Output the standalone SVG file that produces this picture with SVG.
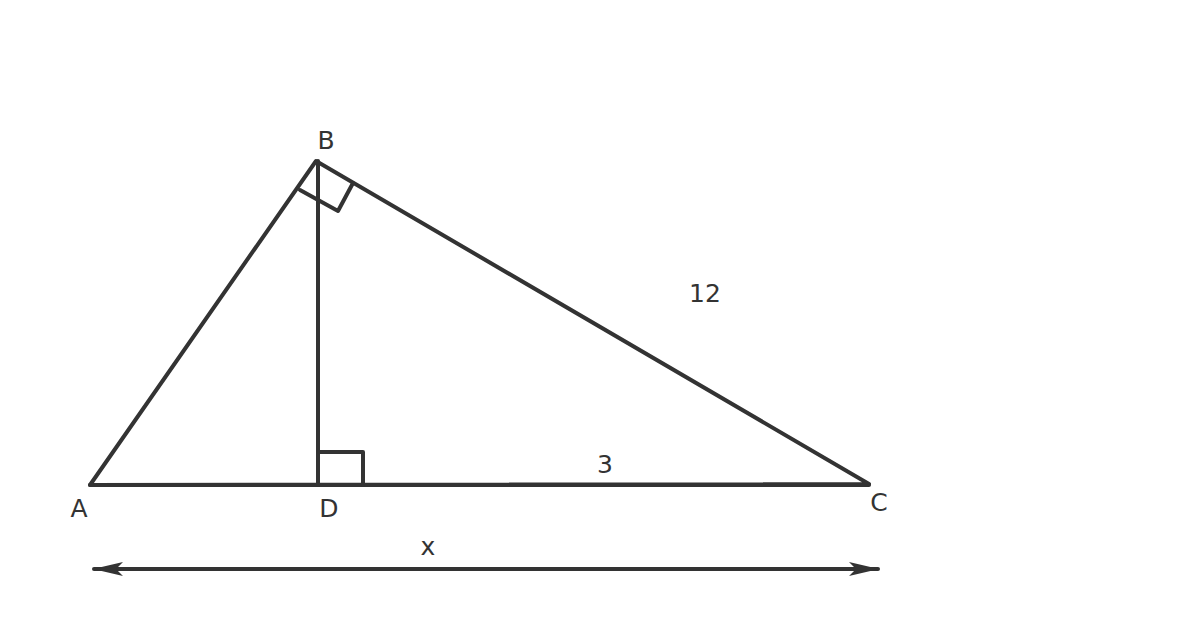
<svg xmlns="http://www.w3.org/2000/svg" width="1198" height="636" viewBox="0 0 1198 636">
<style>
.l{fill:none;stroke:#333;stroke-width:4;stroke-linecap:round;stroke-linejoin:round}
.t{font-family:"DejaVu Sans",sans-serif;font-size:25px;fill:#333;text-anchor:middle}
</style>
<defs>
<marker id="ah" viewBox="0 0 30 16" refX="29" refY="8" markerWidth="30" markerHeight="16" markerUnits="userSpaceOnUse" orient="auto-start-reverse">
<path d="M0,1 L30,8 L0,15 L7,8 Z" fill="#333"/>
</marker>
</defs>
<rect width="1198" height="636" fill="#fff"/>
<g id="triangle">
<path class="l" d="M90,485 L316,161 L869,484 Z"/>
<line class="l" x1="90" y1="485" x2="869" y2="485"/>
</g>
<g id="altitude">
<line class="l" x1="318" y1="161" x2="318" y2="485"/>
</g>
<g id="rightB">
<polyline class="l" points="300,190 338,211 353,183"/>
</g>
<g id="rightD">
<polyline class="l" points="319,452 363,452 363,485"/>
</g>
<g id="connectors">
<line class="l" x1="94" y1="569" x2="878" y2="569" marker-start="url(#ah)" marker-end="url(#ah)"/>
</g>
<g id="labels">
<text class="t" x="326" y="149">B</text>
<text class="t" x="79" y="517">A</text>
<text class="t" x="329" y="517">D</text>
<text class="t" x="879" y="511">C</text>
<text class="t" x="705" y="302">12</text>
<text class="t" x="605" y="473">3</text>
<text class="t" x="428" y="555">x</text>
</g>
</svg>
